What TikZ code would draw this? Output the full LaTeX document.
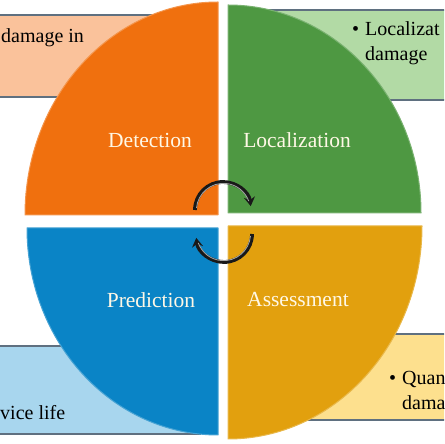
\documentclass[tikz,border=0pt]{standalone}
\usepackage{fontspec}
\setmainfont{Liberation Serif}
\usetikzlibrary{arrows.meta}
\definecolor{cOrange}{RGB}{240,112,14}
\definecolor{cGreen}{RGB}{78,152,66}
\definecolor{cBlue}{RGB}{10,132,198}
\definecolor{cGold}{RGB}{226,160,14}
\definecolor{bPeach}{RGB}{250,194,155}
\definecolor{bGreen}{RGB}{178,218,165}
\definecolor{bBlue}{RGB}{168,214,238}
\definecolor{bGold}{RGB}{253,224,142}
\definecolor{bEdge}{RGB}{95,112,128}
\definecolor{lblText}{RGB}{255,248,230}
\begin{document}
\begin{tikzpicture}[x=1pt,y=1pt,
  infobox/.style={line width=1.5pt, draw=bEdge},
  quad/.style={line width=1pt, line join=round},
  qlabel/.style={text=lblText, font=\fontsize{21.5}{25}\selectfont, inner sep=0pt},
  btext/.style={font=\fontsize{20}{25}\selectfont, inner sep=0pt, text=black},
  cyc/.style={line width=3.8pt, draw=black!90, -{Stealth[length=9pt,width=11pt]}},
  cychl/.style={line width=0.8pt, draw=gray!70}]
\useasboundingbox (0,0) rectangle (444,444);
\clip (0,0) rectangle (444,444);
% info boxes
\draw[infobox, fill=bPeach] (-10,347) rectangle (210,429);
\draw[infobox, fill=bGreen] (250,344) rectangle (460,434);
\draw[infobox, fill=bBlue] (-10,10) rectangle (200,98);
\draw[infobox, fill=bGold] (250,24) rectangle (460,110);
% quadrants
\filldraw[quad, fill=cOrange, draw=cOrange!75!white] (218,229) -- ++(-193,0) arc (180:90:193 and 213) -- cycle;
\filldraw[quad, fill=cGreen, draw=cGreen!75!white] (228,231) -- ++(0,208) arc (90:0:193 and 208) -- cycle;
\filldraw[quad, fill=cBlue, draw=cBlue!75!white] (218,216) -- ++(0,-207) arc (270:180:191 and 207) -- cycle;
\filldraw[quad, fill=cGold, draw=cGold!75!white] (228,218) -- ++(194,0) arc (0:-90:194 and 213) -- cycle;
% labels
\node[qlabel] (det) at (150,304) {Detection};
\node[qlabel] (loc) at (297,304) {Localization};
\node[qlabel] (pre) at (151,144) {Prediction};
\node[qlabel] (ass) at (298,144) {Assessment};
% box texts
\node[btext, anchor=base west] (detTxt) at (1,401) {damage in};
\node[btext, anchor=base west] (locTxt) at (352,408)
  {\begin{tabular}[t]{@{}l@{\hspace{6pt}}l@{}}\textbullet & Localizat\\ & damage\end{tabular}};
\node[btext, anchor=base west] (assTxt) at (389,59)
  {\begin{tabular}[t]{@{}l@{\hspace{6pt}}l@{}}\textbullet & Quan\\ & dama\end{tabular}};
\node[btext, anchor=base west] (preTxt) at (0,24) {vice life};
% cycle arrows
\coordinate (topArcStart) at (195,234);
\coordinate (botArcStart) at (252,210);
\draw[cyc] (topArcStart) arc (180:8:28);
\draw[cychl] (196.5,236) arc (175:20:27);
\draw[cyc] (botArcStart) arc (0:-172:28);
\draw[cychl] (250.5,208) arc (-5:-160:27);
\end{tikzpicture}
\end{document}
